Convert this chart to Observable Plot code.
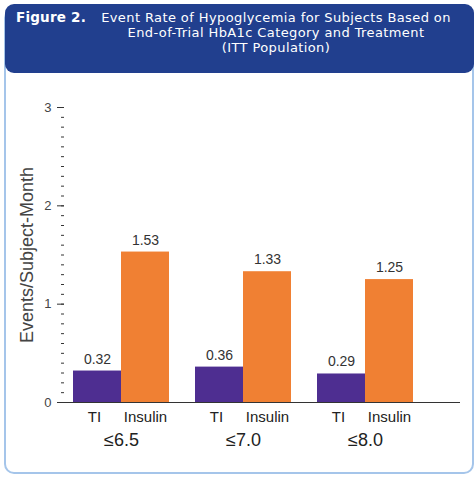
<!DOCTYPE html>
<html>
<head>
<meta charset="utf-8">
<script src="https://cdn.jsdelivr.net/npm/d3@7"></script>
<script src="https://cdn.jsdelivr.net/npm/@observablehq/plot@0.6"></script>
<style>
  body { margin: 0; background: #fff; }
  #page { position: relative; width: 476px; height: 477px; overflow: hidden; }
  #box {
    position: absolute; left: 4px; top: 8px; width: 466px; height: 462px;
    border: 2px solid #a5c5ea; border-radius: 10px;
  }
  #head {
    position: absolute; left: 5px; top: 4px; width: 469px; height: 69px;
    background: #213f8e; border-radius: 9px; color: #fff;
    font-family: "DejaVu Sans", sans-serif; font-size: 13px; line-height: 15px;
    letter-spacing: 0.4px;
    display: flex; padding-top: 6px; box-sizing: border-box;
  }
  #head .fig { font-weight: bold; padding-left: 11px; width: 80px; white-space: nowrap; font-size: 13.5px; letter-spacing: 0.2px; }
  #head .txt { width: 360px; text-align: center; white-space: nowrap; }
  #chart { position: absolute; left: 0; top: 73px; }
</style>
</head>
<body>
<div id="page">
  <div id="box"></div>
  <div id="head">
    <div class="fig">Figure 2.</div>
    <div class="txt">Event Rate of Hypoglycemia for Subjects Based on<br>End-of-Trial HbA1c Category and Treatment<br>(ITT Population)</div>
  </div>
  <div id="chart"></div>
</div>
<script>
// HbA1c categories and event rates (events per subject-month)
const groups = ['≤6.5', '≤7.0', '≤8.0'];
const tiRate = [0.32, 0.36, 0.29];
const insulinRate = [1.53, 1.33, 1.25];
const treatments = ['TI', 'Insulin'];

const rows = groups.flatMap((g, i) => [
  { group: g, treatment: treatments[0], value: tiRate[i] },
  { group: g, treatment: treatments[1], value: insulinRate[i] },
]);
const ti = rows.filter((d) => d.treatment == 'TI');
const ins = rows.filter((d) => d.treatment == 'Insulin');

const half = 48;

let chart = Plot.plot({
  width: 476,
  height: 400,
  marginLeft: 64,
  marginRight: 16,
  marginTop: 34,
  marginBottom: 71,
  style: {
    background: 'transparent',
    'font-family': '"Liberation Sans", Arial, sans-serif',
    color: '#333',
  },
  x: { domain: groups, paddingInner: 0.213, paddingOuter: 0.229, align: 0.16, axis: null },
  y: { domain: [0, 3], axis: null },
  marks: [
    Plot.barY(ti, { x: 'group', y: 'value', fill: '#4e2e91', insetRight: half }),
    Plot.barY(ins, { x: 'group', y: 'value', fill: '#f08033', insetLeft: half }),
    // value labels
    Plot.text(ti, { x: 'group', y: 'value', text: (d) => d.value.toFixed(2), dx: -24, dy: -12, fontSize: 14, fill: '#333' }),
    Plot.text(ins, { x: 'group', y: 'value', text: (d) => d.value.toFixed(2), dx: 24, dy: -12, fontSize: 14, fill: '#333' }),
    // treatment labels under the axis
    Plot.text(ti, { x: 'group', y: 0, text: 'treatment', dx: -27, dy: 15, fontSize: 15, fill: '#222' }),
    Plot.text(ins, { x: 'group', y: 0, text: 'treatment', dx: 24, dy: 15, fontSize: 15, fill: '#222' }),
    // group labels
    Plot.axisX({ tickSize: 0, tickPadding: 31, fontSize: 18, fill: '#222', label: null }),
    // y axis: minor and major ticks
    Plot.axisY({ ticks: d3.range(0, 3.05, 0.1), tickSize: 3, tickFormat: () => '', stroke: '#333', label: null }),
    Plot.axisY({ ticks: [0, 1, 2, 3], tickSize: 7, tickPadding: 6, tickFormat: 'd', fontSize: 13, fill: '#444', stroke: '#333', label: null }),
    Plot.ruleX([0], { x: () => null, stroke: '#333' }),
    Plot.ruleY([0], { stroke: '#333' }),
    Plot.text(['Events/Subject-Month'], { frameAnchor: 'left', textAnchor: 'middle', dx: -37, rotate: -90, fontSize: 18, fill: '#444' }),
  ],
});

d3.select('#chart').append(() => chart);
</script>
</body>
</html>
